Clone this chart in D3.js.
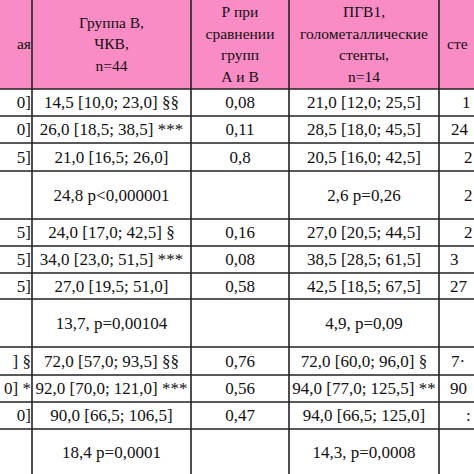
<!DOCTYPE html>
<html><head><meta charset="utf-8">
<script src="https://cdn.jsdelivr.net/npm/d3@7"></script>
<style>body{margin:0;background:#fff} text{font-family:"Liberation Serif","Times New Roman","DejaVu Serif",serif}</style></head>
<body><svg id="c" width="474" height="474"></svg>
<script>
const header = ["ая", "Группа В,|ЧКВ,|n=44", "Р при|сравнении|групп|А и В", "ПГВ1,|голометаллические|стенты,|n=14", "сте"];
const colA = ["0]","0]","5]","","5]","5]","5]","","] §","0] *","0]",""];
const colB = ["14,5 [10,0; 23,0] §§","26,0 [18,5; 38,5] ***","21,0 [16,5; 26,0]","24,8 p<0,000001","24,0 [17,0; 42,5] §","34,0 [23,0; 51,5] ***","27,0 [19,5; 51,0]","13,7, p=0,00104","72,0 [57,0; 93,5] §§","92,0 [70,0; 121,0] ***","90,0 [66,5; 106,5]","18,4 p=0,0001"];
const colP = ["0,08","0,11","0,8","","0,16","0,08","0,58","","0,76","0,56","0,47",""];
const colC = ["21,0 [12,0; 25,5]","28,5 [18,0; 45,5]","20,5 [16,0; 42,5]","2,6 p=0,26","27,0 [20,5; 44,5]","38,5 [28,5; 61,5]","42,5 [18,5; 67,5]","4,9, p=0,09","72,0 [60,0; 96,0] §","94,0 [77,0; 125,5] **","94,0 [66,5; 125,0]","14,3, p=0,0008"];
const colD = ["1","24","2","2","2","3","27","","7·","90",":",""];
const rowEdges = [89,116,143,171,219,246,273,299,347,375,402,429,520];
const colEdges = [-120,32,191,289,439,600];

const svg = d3.select("#c");
svg.append("rect").attr("x",0).attr("y",0).attr("width",474).attr("height",89).attr("fill","#f98cc4");
const g = svg.append("g").attr("fill","#111");
const cols=[colA,colB,colP,colC,colD];
header.forEach((h,i)=>{
  const lines=h.split("|"); const cx=(colEdges[i]+colEdges[i+1])/2;
  const lh=21.5, y0=44-(lines.length-1)*lh/2;
  lines.forEach((l,k)=>{
    let t=g.append("text").attr("font-size",15.5).attr("y",y0+k*lh).attr("dy","0.35em").text(l);
    if(i===0) t.attr("x",31).attr("text-anchor","end");
    else if(i===4) t.attr("x",447).attr("text-anchor","start");
    else t.attr("x",cx).attr("text-anchor","middle");
  });
});
for(let r=0;r<12;r++){
  const yc = r===11? 452 : (rowEdges[r]+rowEdges[r+1])/2;
  cols.forEach((c,i)=>{
    if(!c[r]) return;
    let t=g.append("text").attr("font-size",17).attr("y",yc).attr("dy","0.35em").text(c[r]);
    if(i===0) t.attr("x",31).attr("text-anchor","end");
    else if(i===4) t.attr("x",[462,451,464,464,464,450,450,0,451,450,466][r]).attr("text-anchor","start");
    else t.attr("x",(colEdges[i]+colEdges[i+1])/2).attr("text-anchor","middle");
  });
}
const ln=svg.append("g").attr("stroke","#222").attr("stroke-width",1.6);
rowEdges.slice(0,12).forEach(y=>ln.append("line").attr("x1",0).attr("x2",474).attr("y1",y).attr("y2",y));
colEdges.slice(1,5).forEach(x=>ln.append("line").attr("x1",x).attr("x2",x).attr("y1",0).attr("y2",474));
</script></body></html>
